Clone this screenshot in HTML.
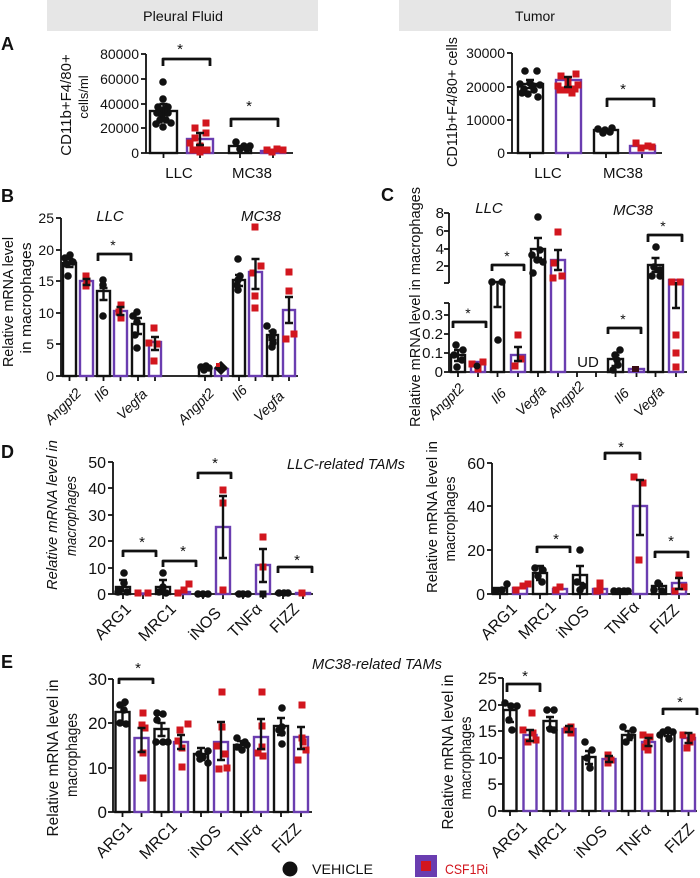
<!DOCTYPE html>
<html><head><meta charset="utf-8"><style>
html,body{margin:0;padding:0;background:#fff}
svg{display:block}
text{font-family:"Liberation Sans",sans-serif;fill:#111}
.ax{stroke:#111;stroke-width:1.8;fill:none}
.bv{fill:#fff;stroke:#111;stroke-width:2.4}
.bc{fill:#fff;stroke:#6a3db0;stroke-width:2.4}
.eb{stroke:#111;stroke-width:2.4;fill:none}
.br{stroke:#111;stroke-width:2.8;fill:none;stroke-linejoin:round}
.d{fill:#111}
.s{fill:#d2161e}
.it{font-style:italic}
.st{font-size:15px}
</style></head><body>
<svg width="700" height="878" viewBox="0 0 700 878" xmlns="http://www.w3.org/2000/svg">
<!-- headers -->
<rect x="47" y="0" width="271" height="31" fill="#e6e6e6"/>
<text x="183" y="21" text-anchor="middle" font-size="14" textLength="80" lengthAdjust="spacingAndGlyphs">Pleural  Fluid</text>
<rect x="399" y="0" width="272" height="31" fill="#e6e6e6"/>
<text x="535" y="21" text-anchor="middle" font-size="14">Tumor</text>

<!-- panel letters -->
<text x="1" y="50" font-size="18" font-weight="bold">A</text>
<text x="1" y="202" font-size="18" font-weight="bold">B</text>
<text x="381" y="201" font-size="18" font-weight="bold">C</text>
<text x="1" y="458" font-size="18" font-weight="bold">D</text>
<text x="1" y="668" font-size="18" font-weight="bold">E</text>

<!-- ================= A left ================= -->
<g>
<text transform="translate(71,105) rotate(-90)" text-anchor="middle" font-size="15">CD11b+F4/80+</text>
<text transform="translate(88,97) rotate(-90)" text-anchor="middle" font-size="13">cells/ml</text>
<path class="ax" d="M146 54 V153 H293 M141 54 H146 M141 79 H146 M141 104 H146 M141 128 H146 M141 153 H146 M163.5 153 v5 M200 153 v5 M240 153 v5 M273 153 v5"/>
<g font-size="14" text-anchor="end">
<text x="139" y="59">80000</text><text x="139" y="84">60000</text><text x="139" y="109">40000</text><text x="139" y="133">20000</text><text x="139" y="158">0</text>
</g>
<rect class="bv" x="150" y="111" width="27" height="42"/>
<rect class="bc" x="187" y="139" width="26" height="14"/>
<rect class="bv" x="229" y="146" width="22" height="7"/>
<rect class="bc" x="261" y="151" width="24" height="2"/>
<g class="d">
<circle cx="163" cy="82" r="3.8"/><circle cx="163" cy="99" r="3.8"/><circle cx="158" cy="107" r="3.8"/><circle cx="168" cy="107" r="3.8"/><circle cx="157" cy="113" r="3.8"/><circle cx="162" cy="115" r="3.8"/><circle cx="168" cy="113" r="3.8"/><circle cx="160" cy="120" r="3.8"/><circle cx="166" cy="120" r="3.8"/><circle cx="163" cy="127" r="3.8"/><circle cx="156" cy="124" r="3.8"/><circle cx="171" cy="123" r="3.8"/><circle cx="164" cy="110" r="3.8"/>
<circle cx="236" cy="142" r="3.8"/><circle cx="244" cy="146" r="3.8"/><circle cx="250" cy="146" r="3.8"/><circle cx="240" cy="149" r="3.8"/><circle cx="247" cy="149" r="3.8"/>
</g>
<path class="s" transform="translate(-3.5 -3.5)" d="M195 128h7v7h-7zM206 123h7v7h-7zM206 133h7v7h-7zM195 138h7v7h-7zM200 146h7v7h-7zM193 150h7v7h-7zM207 150h7v7h-7zM200 152h7v7h-7zM190 143h7v7h-7zM267 150h7v7h-7zM277 149h7v7h-7zM283 150h7v7h-7zM272 152h7v7h-7z"/>
<path class="eb" d="M163.5 104V119M159.5 104h8M159.5 119h8 M200 133V145M196 133h8M196 145h8"/>
<path class="br" d="M163 66V59H210V66 M231 127V119H278V127"/>
<text x="180" y="54" text-anchor="middle" class="st">*</text>
<text x="249" y="111" text-anchor="middle" class="st">*</text>
<text x="179" y="178" text-anchor="middle" font-size="15">LLC</text>
<text x="252" y="178" text-anchor="middle" font-size="15">MC38</text>
</g>

<!-- ================= A right ================= -->
<g>
<text transform="translate(457,102) rotate(-90)" text-anchor="middle" font-size="15" textLength="130" lengthAdjust="spacingAndGlyphs">CD11b+F4/80+  cells</text>
<path class="ax" d="M512 53 V153 H662 M507 53 H512 M507 87 H512 M507 120 H512 M507 153 H512 M530 153v5 M568 153v5 M606 153v5 M642 153v5"/>
<g font-size="14" text-anchor="end">
<text x="505" y="58">30000</text><text x="505" y="92">20000</text><text x="505" y="125">10000</text><text x="505" y="158">0</text>
</g>
<rect class="bv" x="518" y="84" width="25" height="69"/>
<rect class="bc" x="556" y="80" width="25" height="73"/>
<rect class="bv" x="594" y="130" width="24" height="23"/>
<rect class="bc" x="630" y="146" width="25" height="7"/>
<g class="d">
<circle cx="525" cy="71" r="3.8"/><circle cx="537" cy="71" r="3.8"/><circle cx="520" cy="84" r="3.8"/><circle cx="530" cy="83" r="3.8"/><circle cx="540" cy="85" r="3.8"/><circle cx="524" cy="89" r="3.8"/><circle cx="534" cy="90" r="3.8"/><circle cx="528" cy="94" r="3.8"/><circle cx="538" cy="97" r="3.8"/><circle cx="522" cy="93" r="3.8"/><circle cx="533" cy="86" r="3.8"/>
<circle cx="598" cy="129" r="3.8"/><circle cx="605" cy="130" r="3.8"/><circle cx="612" cy="128" r="3.8"/><circle cx="603" cy="133" r="3.8"/><circle cx="610" cy="132" r="3.8"/>
</g>
<path class="s" transform="translate(-3.5 -3.5)" d="M561 76h7v7h-7zM576 74h7v7h-7zM568 81h7v7h-7zM558 86h7v7h-7zM578 85h7v7h-7zM565 90h7v7h-7zM572 93h7v7h-7zM560 90h7v7h-7zM575 89h7v7h-7zM568 86h7v7h-7zM636 143h7v7h-7zM648 146h7v7h-7zM641 148h7v7h-7zM652 147h7v7h-7z"/>
<path class="eb" d="M530 80V88M526 80h8M526 88h8 M568 77V87M564 77h8M564 87h8"/>
<path class="br" d="M607 107V99H654V107"/>
<text x="623" y="94" text-anchor="middle" class="st">*</text>
<text x="548" y="178" text-anchor="middle" font-size="15">LLC</text>
<text x="623" y="178" text-anchor="middle" font-size="15">MC38</text>
</g>

<!-- ================= B ================= -->
<g>
<text transform="translate(13,302) rotate(-90)" text-anchor="middle" font-size="14.5" textLength="130" lengthAdjust="spacingAndGlyphs">Relative  mRNA level</text>
<text transform="translate(31,298) rotate(-90)" text-anchor="middle" font-size="14.5" textLength="111" lengthAdjust="spacingAndGlyphs">in macrophages</text>
<path class="ax" d="M61 218 V376 H298 M56 218H61 M56 250H61 M56 281H61 M56 313H61 M56 344H61 M56 376H61 M69.5 376v5 M86.5 376v5 M103.5 376v5 M120.5 376v5 M138 376v5 M155 376v5 M205 376v5 M221.5 376v5 M239 376v5 M255.5 376v5 M272.5 376v5 M289 376v5"/>
<g font-size="14" text-anchor="end">
<text x="54" y="223">25</text><text x="54" y="255">20</text><text x="54" y="286">15</text><text x="54" y="318">10</text><text x="54" y="349">5</text><text x="54" y="381">0</text>
</g>
<rect class="bv" x="63" y="263" width="13" height="113"/>
<rect class="bc" x="80" y="281" width="13" height="95"/>
<rect class="bv" x="97" y="291" width="13" height="85"/>
<rect class="bc" x="114" y="311" width="13" height="65"/>
<rect class="bv" x="132" y="324" width="12" height="52"/>
<rect class="bc" x="149" y="342" width="12" height="34"/>
<rect class="bv" x="199" y="368" width="12" height="8"/>
<rect class="bc" x="215" y="369" width="13" height="7"/>
<rect class="bv" x="233" y="280" width="12" height="96"/>
<rect class="bc" x="249" y="272" width="13" height="104"/>
<rect class="bv" x="267" y="335" width="11" height="41"/>
<rect class="bc" x="283" y="310" width="12" height="66"/>
<g class="d">
<circle cx="65" cy="258" r="3.8"/><circle cx="70" cy="255" r="3.8"/><circle cx="73" cy="262" r="3.8"/><circle cx="68" cy="276" r="3.8"/><circle cx="66" cy="264" r="3.8"/>
<circle cx="103" cy="280" r="3.8"/><circle cx="103" cy="285" r="3.8"/><circle cx="103" cy="316" r="3.8"/>
<circle cx="133" cy="316" r="3.8"/><circle cx="137" cy="312" r="3.8"/><circle cx="137" cy="322" r="3.8"/><circle cx="135" cy="335" r="3.8"/><circle cx="137" cy="348" r="3.8"/>
<circle cx="201" cy="367" r="3.8"/><circle cx="206" cy="366" r="3.8"/><circle cx="209" cy="368" r="3.8"/><circle cx="204" cy="370" r="3.8"/>
<circle cx="238" cy="259" r="3.8"/><circle cx="238" cy="280" r="3.8"/><circle cx="237" cy="285" r="3.8"/><circle cx="238" cy="290" r="3.8"/><circle cx="240" cy="276" r="3.8"/>
<circle cx="267" cy="326" r="3.8"/><circle cx="273" cy="332" r="3.8"/><circle cx="272" cy="337" r="3.8"/><circle cx="273" cy="343" r="3.8"/><circle cx="272" cy="347" r="3.8"/>
</g>
<rect x="216" y="363" width="10" height="10" fill="#111" transform="rotate(45 221 368)"/>
<path class="s" transform="translate(-3.5 -3.5)" d="M86 276h7v7h-7zM86 286h7v7h-7zM87 281h7v7h-7zM121 305h7v7h-7zM121 318h7v7h-7zM119 312h7v7h-7zM154 328h7v7h-7zM149 343h7v7h-7zM157 344h7v7h-7zM154 361h7v7h-7zM219.5 366.5h4v4h-4zM255 227h7v7h-7zM253 273h7v7h-7zM261 266h7v7h-7zM255 296h7v7h-7zM255 308h7v7h-7zM289 272h7v7h-7zM289 291h7v7h-7zM286 339h7v7h-7zM294 334h7v7h-7z"/>
<path class="eb" d="M69.5 259V267M65.5 259h8M65.5 267h8 M86.5 279V285M82.5 279h8M82.5 285h8 M103.5 288V300M99.5 288h8M99.5 300h8 M120.5 307V315M116.5 307h8M116.5 315h8 M138 318V334M134 318h8M134 334h8 M155 337V350M151 337h8M151 350h8 M239 275V286M235 275h8M235 286h8 M255.5 259V289M251.5 259h8M251.5 289h8 M272.5 331V340M268.5 331h8M268.5 340h8 M289 297V323M285 297h8M285 323h8"/>
<path class="br" d="M98 261V254H131V261"/>
<text x="113" y="250" text-anchor="middle" font-size="14">*</text>
<text x="110" y="221" text-anchor="middle" font-size="15" class="it">LLC</text>
<text x="261" y="221" text-anchor="middle" font-size="15" class="it">MC38</text>
<g font-size="14" class="it" text-anchor="end">
<text transform="translate(82,394) rotate(-45)">Angpt2</text>
<text transform="translate(110,392) rotate(-45)">Il6</text>
<text transform="translate(148,395) rotate(-45)">Vegfa</text>
<text transform="translate(215,394) rotate(-45)">Angpt2</text>
<text transform="translate(248,391) rotate(-45)">Il6</text>
<text transform="translate(285,397) rotate(-45)">Vegfa</text>
</g>
</g>

<!-- ================= C ================= -->
<g>
<text transform="translate(420,307) rotate(-90)" text-anchor="middle" font-size="14.5" textLength="240" lengthAdjust="spacingAndGlyphs">Relative mRNA level in macrophages</text>
<path class="ax" d="M449 213 V283 M444 213H449 M444 231H449 M444 249H449 M444 266H449 M444 283H449 M449 303 V372 H687 M444 303H449 M444 315H449 M444 334H449 M444 353H449 M444 372H449 M458 372v5 M478 372v5 M497.5 372v5 M518 372v5 M538 372v5 M558 372v5 M577 372v5 M596 372v5 M615.5 372v5 M636.5 372v5 M655.5 372v5 M676 372v5"/>
<g font-size="15" text-anchor="end">
<text x="444" y="218">8</text><text x="444" y="236">6</text><text x="444" y="254">4</text><text x="444" y="271">2</text>
<text x="443" y="320">0.3</text><text x="443" y="339">0.2</text><text x="443" y="358">0.1</text><text x="443" y="377">0</text>
</g>
<rect class="bv" x="451" y="355" width="14" height="17"/>
<rect class="bc" x="471" y="362" width="14" height="10"/>
<rect class="bv" x="491" y="282" width="13" height="90"/>
<rect class="bc" x="511" y="355" width="14" height="17"/>
<rect class="bv" x="531" y="249" width="14" height="123"/>
<rect class="bc" x="551" y="260" width="14" height="112"/>
<rect class="bv" x="608" y="359" width="15" height="13"/>
<rect class="bc" x="629" y="369" width="15" height="3"/>
<rect class="bv" x="648" y="265" width="15" height="107"/>
<rect class="bc" x="669" y="280" width="14" height="92"/>
<text x="588" y="367" text-anchor="middle" font-size="15">UD</text>
<g class="d">
<circle cx="456" cy="345" r="3.8"/><circle cx="463" cy="350" r="3.8"/><circle cx="454" cy="355" r="3.8"/><circle cx="462" cy="360" r="3.8"/><circle cx="457" cy="367" r="3.8"/>
<circle cx="492" cy="282" r="3.8"/><circle cx="502" cy="282" r="3.8"/><circle cx="498" cy="340" r="3.8"/>
<circle cx="538" cy="217" r="3.8"/><circle cx="533" cy="273" r="3.8"/><circle cx="537" cy="260" r="3.8"/><circle cx="532" cy="255" r="3.8"/><circle cx="540" cy="250" r="3.8"/><circle cx="543" cy="262" r="3.8"/>
<circle cx="620" cy="350" r="3.8"/><circle cx="615" cy="355" r="3.8"/><circle cx="617" cy="360" r="3.8"/><circle cx="613" cy="370" r="3.8"/><circle cx="618" cy="365" r="3.8"/>
<circle cx="656" cy="247" r="3.8"/><circle cx="654" cy="267" r="3.8"/><circle cx="660" cy="270" r="3.8"/><circle cx="652" cy="276" r="3.8"/><circle cx="660" cy="276" r="3.8"/>
</g>
<path class="s" transform="translate(-3.5 -3.5)" d="M472 364h7v7h-7zM483 362h7v7h-7zM478 369h7v7h-7zM518 335h7v7h-7zM515 366h7v7h-7zM521 359h7v7h-7zM558 232h7v7h-7zM554 263h7v7h-7zM562 276h7v7h-7zM553 278h7v7h-7zM672 282h7v7h-7zM680 282h7v7h-7zM676 335h7v7h-7zM676 353h7v7h-7zM676 367h7v7h-7z"/>
<circle cx="477" cy="366" r="3.5" fill="#111"/>
<rect x="632" y="366" width="7" height="6" fill="#3a0d14"/>
<path class="eb" d="M458 350V361M454 350h8M454 361h8 M497.5 282V307M493.5 307h8 M518 347V361M514 347h8M514 361h8 M538 238V258M534 238h8M534 258h8 M558 250V270M554 250h8M554 270h8 M615.5 355V366M611.5 355h8M611.5 366h8 M655.5 258V272M651.5 258h8M651.5 272h8 M676 282V308M672 308h8"/>
<path class="br" d="M453 328V322H486V328 M492 271V265H524V271 M608 334V328H641V334 M648 242V235H682V242"/>
<g font-size="14" text-anchor="middle">
<text x="468" y="318">*</text><text x="507" y="261">*</text><text x="623" y="324">*</text><text x="663" y="231">*</text>
</g>
<text x="489" y="213" text-anchor="middle" font-size="15" class="it">LLC</text>
<text x="633" y="215" text-anchor="middle" font-size="15" class="it">MC38</text>
<g font-size="14" class="it" text-anchor="end">
<text transform="translate(465,389) rotate(-45)">Angpt2</text>
<text transform="translate(507,394) rotate(-45)">Il6</text>
<text transform="translate(547,391) rotate(-45)">Vegfa</text>
<text transform="translate(585,387) rotate(-45)">Angpt2</text>
<text transform="translate(630,394) rotate(-45)">Il6</text>
<text transform="translate(665,392) rotate(-45)">Vegfa</text>
</g>
</g>

<!-- ================= D left ================= -->
<g>
<text transform="translate(57,515) rotate(-90)" text-anchor="middle" font-size="15" class="it" textLength="150" lengthAdjust="spacingAndGlyphs">Relative  mRNA level in</text>
<text transform="translate(76,516) rotate(-90)" text-anchor="middle" font-size="15" class="it" textLength="80" lengthAdjust="spacingAndGlyphs">macrophages</text>
<path class="ax" d="M113 462 V594 H313 M108 462H113 M108 488H113 M108 515H113 M108 541H113 M108 568H113 M108 594H113 M123 594v5 M143 594v5 M163 594v5 M183 594v5 M203 594v5 M223 594v5 M243 594v5 M263 594v5 M283 594v5 M303 594v5"/>
<g font-size="16" text-anchor="end">
<text x="106" y="468">50</text><text x="106" y="494">40</text><text x="106" y="521">30</text><text x="106" y="547">20</text><text x="106" y="574">10</text><text x="106" y="600">0</text>
</g>
<rect class="bv" x="116" y="587" width="14" height="7"/>
<rect class="bc" x="136" y="593.5" width="14" height="0.5"/>
<rect class="bv" x="156" y="587" width="14" height="7"/>
<rect class="bc" x="176" y="592" width="14" height="2"/>
<rect class="bv" x="196" y="593.5" width="14" height="0.5"/>
<rect class="bc" x="216" y="527" width="14" height="67"/>
<rect class="bv" x="236" y="593.5" width="14" height="0.5"/>
<rect class="bc" x="256" y="565" width="14" height="29"/>
<rect class="bv" x="276" y="593" width="14" height="1"/>
<rect class="bc" x="296" y="593" width="14" height="1"/>
<g class="d">
<circle cx="124" cy="573" r="3.8"/><circle cx="124" cy="583" r="3.8"/><circle cx="120" cy="590" r="3.8"/><circle cx="127" cy="592" r="3.8"/><circle cx="118" cy="592" r="3.8"/>
<circle cx="163" cy="573" r="3.8"/><circle cx="163" cy="587" r="3.8"/><circle cx="159" cy="592" r="3.8"/><circle cx="166" cy="593" r="3.8"/>
<circle cx="198" cy="594" r="3.8"/><circle cx="203" cy="594" r="3.8"/><circle cx="208" cy="594" r="3.8"/>
<circle cx="239" cy="594" r="3.8"/><circle cx="243" cy="594" r="3.8"/><circle cx="248" cy="594" r="3.8"/>
<circle cx="279" cy="593" r="3.8"/><circle cx="284" cy="593" r="3.8"/><circle cx="288" cy="593" r="3.8"/>
</g>
<path class="s" transform="translate(-3.5 -3.5)" d="M138 593h7v7h-7zM148 593h7v7h-7zM178 593h7v7h-7zM189 584h7v7h-7zM184 590h7v7h-7zM223 490h7v7h-7zM223 503h7v7h-7zM223 590h7v7h-7zM263 537h7v7h-7zM263 567h7v7h-7zM302 593h7v7h-7z"/>
<rect x="259.5" y="590.5" width="7" height="7" fill="#111"/>
<path class="eb" d="M123 580V592M119 580h8 M163 580V592M159 580h8 M223 496V558M219 496h8M219 558h8 M263 549V582M259 549h8M259 582h8"/>
<path class="br" d="M123 557V551H156V557 M163 567V561H196V567 M198 479V473H231V479 M278 573V567H312V573"/>
<g font-size="15" text-anchor="middle">
<text x="142" y="547">*</text><text x="183" y="556">*</text><text x="215" y="468">*</text><text x="297" y="565">*</text>
</g>
<text x="287" y="469" font-size="15" class="it" textLength="118" lengthAdjust="spacingAndGlyphs">LLC-related  TAMs</text>
<g font-size="16" text-anchor="end">
<text transform="translate(132,610) rotate(-45)">ARG1</text>
<text transform="translate(177,610) rotate(-45)">MRC1</text>
<text transform="translate(222,614) rotate(-45)">iNOS</text>
<text transform="translate(263,610) rotate(-45)">TNFα</text>
<text transform="translate(300,610) rotate(-45)">FIZZ</text>
</g>
</g>

<!-- ================= D right ================= -->
<g>
<text transform="translate(437,517) rotate(-90)" text-anchor="middle" font-size="15" textLength="152" lengthAdjust="spacingAndGlyphs">Relative mRNA level in</text>
<text transform="translate(455,519) rotate(-90)" text-anchor="middle" font-size="15" textLength="85" lengthAdjust="spacingAndGlyphs">macrophages</text>
<path class="ax" d="M492 463 V594 H690 M487 463H492 M487 506H492 M487 550H492 M487 594H492 M500 594v5 M520 594v5 M540 594v5 M560 594v5 M580 594v5 M600 594v5 M620 594v5 M640 594v5 M659 594v5 M679 594v5"/>
<g font-size="16" text-anchor="end">
<text x="485" y="469">60</text><text x="485" y="512">40</text><text x="485" y="556">20</text><text x="485" y="600">0</text>
</g>
<rect class="bv" x="493" y="588" width="14" height="6"/>
<rect class="bc" x="513" y="588" width="14" height="6"/>
<rect class="bv" x="533" y="573" width="14" height="21"/>
<rect class="bc" x="553" y="589" width="14" height="5"/>
<rect class="bv" x="573" y="575" width="14" height="19"/>
<rect class="bc" x="593" y="589" width="14" height="5"/>
<rect class="bv" x="613" y="591" width="14" height="3"/>
<rect class="bc" x="633" y="506" width="14" height="88"/>
<rect class="bv" x="652" y="586" width="14" height="8"/>
<rect class="bc" x="672" y="583" width="14" height="11"/>
<g class="d">
<circle cx="496" cy="591" r="3.8"/><circle cx="502" cy="590" r="3.8"/><circle cx="507" cy="584" r="3.8"/>
<circle cx="535" cy="568" r="3.8"/><circle cx="543" cy="570" r="3.8"/><circle cx="542" cy="582" r="3.8"/><circle cx="538" cy="576" r="3.8"/>
<circle cx="580" cy="550" r="3.8"/><circle cx="577" cy="582" r="3.8"/><circle cx="580" cy="590" r="3.8"/><circle cx="583" cy="586" r="3.8"/>
<circle cx="614" cy="591" r="3.8"/><circle cx="619" cy="591" r="3.8"/><circle cx="624" cy="591" r="3.8"/><circle cx="628" cy="591" r="3.8"/>
<circle cx="654" cy="590" r="3.8"/><circle cx="658" cy="583" r="3.8"/><circle cx="662" cy="591" r="3.8"/>
</g>
<path class="s" transform="translate(-3.5 -3.5)" d="M516 590h7v7h-7zM523 586h7v7h-7zM528 584h7v7h-7zM560 587h7v7h-7zM556 590h7v7h-7zM600 583h7v7h-7zM600 590h7v7h-7zM597 591h7v7h-7zM634 477h7v7h-7zM643 483h7v7h-7zM639 560h7v7h-7zM679 575h7v7h-7zM684 587h7v7h-7zM675 591h7v7h-7z"/>
<path class="eb" d="M540 566V580M536 566h8M536 580h8 M580 566V583M576 566h8M576 583h8 M640 480V535M636 480h8M636 535h8 M659 584V590M655 584h8 M679 578V589M675 578h8M675 589h8"/>
<path class="br" d="M537 553V547H570V553 M605 460V453H640V460 M655 558V552H688V558"/>
<g font-size="15" text-anchor="middle">
<text x="556" y="544">*</text><text x="621" y="452">*</text><text x="671" y="546">*</text>
</g>
<g font-size="16" text-anchor="end">
<text transform="translate(518,610) rotate(-45)">ARG1</text>
<text transform="translate(557,608) rotate(-45)">MRC1</text>
<text transform="translate(590,612) rotate(-45)">iNOS</text>
<text transform="translate(640,608) rotate(-45)">TNFα</text>
<text transform="translate(680,611) rotate(-45)">FIZZ</text>
</g>
</g>

<!-- ================= E left ================= -->
<g>
<text transform="translate(58,758) rotate(-90)" text-anchor="middle" font-size="16" textLength="157" lengthAdjust="spacingAndGlyphs">Relative mRNA level in</text>
<text transform="translate(77,755) rotate(-90)" text-anchor="middle" font-size="16" textLength="84" lengthAdjust="spacingAndGlyphs">macrophages</text>
<path class="ax" d="M113 679 V812 H312 M108 679H113 M108 723H113 M108 768H113 M108 812H113 M122.5 812v5 M141.5 812v5 M161.5 812v5 M181 812v5 M201 812v5 M221 812v5 M241 812v5 M261 812v5 M281 812v5 M301 812v5"/>
<g font-size="17" text-anchor="end">
<text x="107" y="685">30</text><text x="107" y="729">20</text><text x="107" y="774">10</text><text x="107" y="818">0</text>
</g>
<rect class="bv" x="115.5" y="712" width="14" height="100"/>
<rect class="bc" x="134.5" y="738" width="14" height="74"/>
<rect class="bv" x="154.5" y="729" width="14" height="83"/>
<rect class="bc" x="174" y="742" width="14" height="70"/>
<rect class="bv" x="194" y="754" width="14" height="58"/>
<rect class="bc" x="214" y="742" width="14" height="70"/>
<rect class="bv" x="234" y="745" width="14" height="67"/>
<rect class="bc" x="254" y="737" width="14" height="75"/>
<rect class="bv" x="274" y="726" width="14" height="86"/>
<rect class="bc" x="294" y="737" width="14" height="75"/>
<g class="d">
<circle cx="125" cy="702" r="3.8"/><circle cx="120" cy="705" r="3.8"/><circle cx="124" cy="710" r="3.8"/><circle cx="120" cy="723" r="3.8"/><circle cx="126" cy="724" r="3.8"/>
<circle cx="157" cy="713" r="3.8"/><circle cx="163" cy="714" r="3.8"/><circle cx="157" cy="720" r="3.8"/><circle cx="156" cy="742" r="3.8"/><circle cx="163" cy="742" r="3.8"/><circle cx="168" cy="742" r="3.8"/>
<circle cx="199" cy="754" r="3.8"/><circle cx="208" cy="751" r="3.8"/><circle cx="200" cy="759" r="3.8"/><circle cx="208" cy="763" r="3.8"/><circle cx="203" cy="757" r="3.8"/>
<circle cx="237" cy="738" r="3.8"/><circle cx="245" cy="742" r="3.8"/><circle cx="242" cy="750" r="3.8"/><circle cx="237" cy="747" r="3.8"/><circle cx="247" cy="745" r="3.8"/>
<circle cx="282" cy="708" r="3.8"/><circle cx="282" cy="727" r="3.8"/><circle cx="282" cy="733" r="3.8"/><circle cx="282" cy="744" r="3.8"/><circle cx="279" cy="730" r="3.8"/>
</g>
<path class="s" transform="translate(-3.5 -3.5)" d="M143 713h7v7h-7zM142 725h7v7h-7zM145 728h7v7h-7zM143 753h7v7h-7zM143 778h7v7h-7zM180 730h7v7h-7zM188 724h7v7h-7zM182 748h7v7h-7zM182 767h7v7h-7zM178 741h7v7h-7zM222 692h7v7h-7zM222 727h7v7h-7zM217 746h7v7h-7zM225 754h7v7h-7zM219 769h7v7h-7zM227 768h7v7h-7zM262 692h7v7h-7zM262 726h7v7h-7zM258 753h7v7h-7zM263 756h7v7h-7zM262 747h7v7h-7zM302 705h7v7h-7zM302 738h7v7h-7zM298 760h7v7h-7zM306 750h7v7h-7zM303 742h7v7h-7z"/>
<path class="eb" d="M122.5 705V722M118.5 705h8M118.5 722h8 M141.5 728V752M137.5 728h8M137.5 752h8 M161.5 723V736M157.5 723h8M157.5 736h8 M181 735V749M177 735h8M177 749h8 M201 748V760M197 748h8M197 760h8 M221 722V760M217 722h8M217 760h8 M241 741V749M237 741h8M237 749h8 M261 719V749M257 719h8M257 749h8 M281 718V735M277 718h8M277 735h8 M301 727V749M297 727h8M297 749h8"/>
<path class="br" d="M119 684V679H153V684"/>
<text x="138" y="673" text-anchor="middle" class="st">*</text>
<text x="312" y="669" font-size="15" class="it" textLength="130" lengthAdjust="spacingAndGlyphs">MC38-related  TAMs</text>
<g font-size="16" text-anchor="end">
<text transform="translate(133,828) rotate(-45)">ARG1</text>
<text transform="translate(178,828) rotate(-45)">MRC1</text>
<text transform="translate(222,832) rotate(-45)">iNOS</text>
<text transform="translate(263,830) rotate(-45)">TNFα</text>
<text transform="translate(302,830) rotate(-45)">FIZZ</text>
</g>
</g>

<!-- ================= E right ================= -->
<g>
<text transform="translate(453,752) rotate(-90)" text-anchor="middle" font-size="16" textLength="155" lengthAdjust="spacingAndGlyphs">Relative mRNA level in</text>
<text transform="translate(471,758) rotate(-90)" text-anchor="middle" font-size="16" textLength="83" lengthAdjust="spacingAndGlyphs">macrophages</text>
<path class="ax" d="M503 678 V811 H697 M498 678H503 M498 705H503 M498 731H503 M498 758H503 M498 784H503 M498 811H503 M510 811v5 M530 811v5 M550 811v5 M569 811v5 M589 811v5 M609 811v5 M628.5 811v5 M648.5 811v5 M668 811v5 M688.5 811v5"/>
<g font-size="17" text-anchor="end">
<text x="497" y="684">25</text><text x="497" y="711">20</text><text x="497" y="737">15</text><text x="497" y="764">10</text><text x="497" y="790">5</text><text x="497" y="817">0</text>
</g>
<rect class="bv" x="503.5" y="710" width="13" height="101"/>
<rect class="bc" x="523.5" y="735" width="13" height="76"/>
<rect class="bv" x="543.5" y="721" width="13" height="90"/>
<rect class="bc" x="562.5" y="729" width="13" height="82"/>
<rect class="bv" x="582.5" y="757" width="13" height="54"/>
<rect class="bc" x="602.5" y="759" width="13" height="52"/>
<rect class="bv" x="622" y="735" width="13" height="76"/>
<rect class="bc" x="642" y="742" width="13" height="69"/>
<rect class="bv" x="661.5" y="733" width="13" height="78"/>
<rect class="bc" x="682" y="738" width="13" height="73"/>
<g class="d">
<circle cx="505" cy="703" r="3.8"/><circle cx="511" cy="706" r="3.8"/><circle cx="517" cy="706" r="3.8"/><circle cx="509" cy="720" r="3.8"/><circle cx="512" cy="730" r="3.8"/>
<circle cx="547" cy="710" r="3.8"/><circle cx="554" cy="710" r="3.8"/><circle cx="550" cy="729" r="3.8"/><circle cx="554" cy="730" r="3.8"/>
<circle cx="585" cy="742" r="3.8"/><circle cx="592" cy="750" r="3.8"/><circle cx="587" cy="758" r="3.8"/><circle cx="590" cy="768" r="3.8"/>
<circle cx="623" cy="727" r="3.8"/><circle cx="633" cy="730" r="3.8"/><circle cx="630" cy="737" r="3.8"/><circle cx="626" cy="742" r="3.8"/>
<circle cx="663" cy="732" r="3.8"/><circle cx="668" cy="730" r="3.8"/><circle cx="673" cy="732" r="3.8"/><circle cx="669" cy="739" r="3.8"/><circle cx="660" cy="735" r="3.8"/>
</g>
<path class="s" transform="translate(-3.5 -3.5)" d="M532 713h7v7h-7zM523 730h7v7h-7zM533 733h7v7h-7zM528 742h7v7h-7zM536 740h7v7h-7zM571 727h7v7h-7zM571 733h7v7h-7zM567 730h7v7h-7zM608 755h7v7h-7zM608 763h7v7h-7zM611 760h7v7h-7zM643 735h7v7h-7zM650 737h7v7h-7zM647 743h7v7h-7zM648 750h7v7h-7zM645 747h7v7h-7zM683 735h7v7h-7zM692 737h7v7h-7zM687 748h7v7h-7zM690 742h7v7h-7z"/>
<path class="eb" d="M510 705V722M506 705h8M506 722h8 M530 730V741M526 730h8M526 741h8 M550 717V728M546 717h8M546 728h8 M569 726V732M565 726h8M565 732h8 M589 751V764M585 751h8M585 764h8 M609 756V762M605 756h8M605 762h8 M628.5 731V740M624.5 731h8M624.5 740h8 M648.5 738V746M644.5 738h8M644.5 746h8 M668 730V736M664 730h8M664 736h8 M688.5 733V743M684.5 733h8M684.5 743h8"/>
<path class="br" d="M507 692V684H540V692 M663 715V709H697V715"/>
<text x="525" y="681" text-anchor="middle" class="st">*</text>
<text x="680" y="707" text-anchor="middle" class="st">*</text>
<g font-size="16" text-anchor="end">
<text transform="translate(528,828) rotate(-45)">ARG1</text>
<text transform="translate(567,828) rotate(-45)">MRC1</text>
<text transform="translate(608,832) rotate(-45)">iNOS</text>
<text transform="translate(652,830) rotate(-45)">TNFα</text>
<text transform="translate(695,830) rotate(-45)">FIZZ</text>
</g>
</g>

<!-- legend -->
<circle cx="290" cy="869" r="7.5" fill="#111"/>
<text x="312" y="874" font-size="14" textLength="61" lengthAdjust="spacingAndGlyphs">VEHICLE</text>
<rect x="418" y="858" width="16" height="16" fill="#d2161e" stroke="#6a3db0" stroke-width="6"/>
<text x="445" y="874" font-size="14" style="fill:#d2161e" textLength="43" lengthAdjust="spacingAndGlyphs">CSF1Ri</text>
</svg>
</body></html>
